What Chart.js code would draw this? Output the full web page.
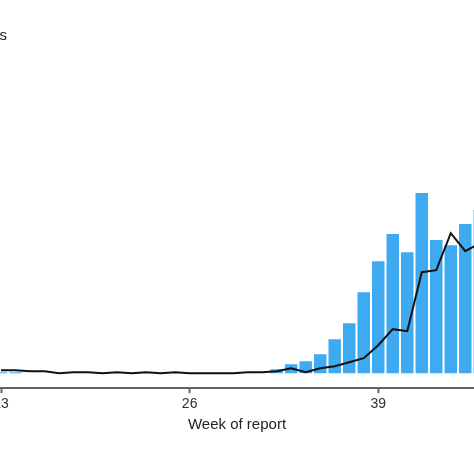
<!DOCTYPE html>
<html>
<head>
<meta charset="utf-8">
<script src="https://cdn.jsdelivr.net/npm/chart.js@4"></script>
<style>
  html, body { margin: 0; padding: 0; background: #fff; }
  #wrap { width: 474px; height: 474px; position: relative; }
</style>
</head>
<body>
<div id="wrap"><canvas id="chartWeeks"></canvas></div>
<script>
// weeks of report and the two series
var weeks = [13,14,15,16,17,18,19,20,21,22,23,24,25,26,27,28,29,30,31,32,33,34,35,36,37,38,39,40,41,42,43,44,45,46];
var barCases = [1,1,0,0,0,0,0,0,0,0,0,0,0,0,0,0,0,0,0,4,9,12,19,34,50,81,112,139,121,180,133,128,149,163];
var lineCases = [3,3,2,2,0,1,1,0,1,0,1,0,1,0,0,0,0,1,1,2,5,1,5,7,11,15,28,44,42,101,103,140,122,130];
var tickWeeks = [13, 26, 39];

var ctx = document.getElementById("chartWeeks").getContext("2d");

// partial y title at the top left, cut off by the crop
var cutTitle = {
    id: 'cutTitle',
    afterDraw: function (chart) {
        var c = chart.ctx;
        c.save();
        c.fillStyle = '#222';
        c.font = '15px "Liberation Sans", Arial, sans-serif';
        c.textAlign = 'right';
        c.textBaseline = 'middle';
        c.fillText('Number of cases', 7, 36);
        c.restore();
    }
};

var chartWeeks = new Chart(ctx, {
    type: 'bar',
    data: {
        datasets: [
            {
                type: 'line',
                label: 'Line',
                data: weeks.map(function (w, i) { return { x: w, y: lineCases[i] }; }),
                borderColor: '#111',
                borderWidth: 2,
                pointRadius: 0,
                tension: 0,
                clip: false,
                order: 0
            },
            {
                type: 'bar',
                label: 'Cases',
                data: weeks.map(function (w, i) { return { x: w, y: barCases[i] }; }),
                backgroundColor: '#3eaaf2',
                barPercentage: 0.86,
                categoryPercentage: 1,
                order: 1
            }
        ]
    },
    options: {
        responsive: true,
        maintainAspectRatio: false,
        animation: false,
        layout: { padding: { left: 0, right: 0, top: 0, bottom: 36 } },
        plugins: { legend: { display: false }, tooltip: { enabled: false } },
        scales: {
            x: {
                type: 'linear',
                offset: false,
                bounds: 'ticks',
                min: 12.93,
                max: 45.6,
                afterBuildTicks: function (axis) {
                    axis.ticks = tickWeeks.map(function (v) { return { value: v }; });
                },
                afterFit: function (axis) {
                    axis.paddingLeft = 0;
                    axis.paddingRight = 0;
                },
                grid: { display: true, offset: false, drawOnChartArea: false, drawTicks: true, tickLength: 5, color: '#666', tickWidth: 2 },
                border: { display: true, color: '#666', width: 2 },
                ticks: {
                    color: '#333',
                    font: { size: 14, family: '"Liberation Sans", Arial, sans-serif' },
                    padding: 3
                },
                title: {
                    display: true,
                    text: 'Week of report',
                    color: '#222',
                    font: { size: 15, family: '"Liberation Sans", Arial, sans-serif' },
                    padding: { top: 0 }
                }
            },
            y: {
                display: false,
                min: -15,
                max: 373
            }
        }
    },
    plugins: [cutTitle]
});
</script>
</body>
</html>
